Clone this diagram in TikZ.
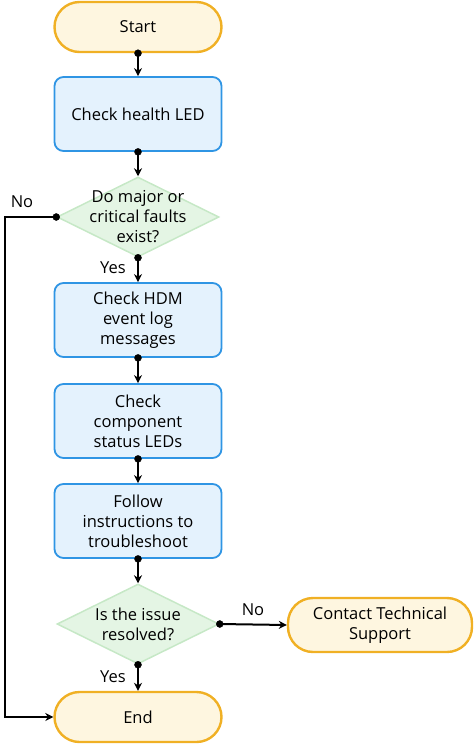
\documentclass[tikz,border=0pt]{standalone}
\usepackage{fontspec}
\setmainfont{Open Sans}
\usetikzlibrary{shapes.geometric,arrows.meta}
\definecolor{termfill}{HTML}{FEF6E0}
\definecolor{termline}{HTML}{F0B024}
\definecolor{procfill}{HTML}{E4F2FD}
\definecolor{procline}{HTML}{2F95E4}
\definecolor{decfill}{HTML}{E4F5E4}
\definecolor{decline}{HTML}{C6E8C6}
\begin{document}
\begin{tikzpicture}[x=1pt,y=-1pt,font=\fontsize{16.5}{20}\selectfont,
  term/.style={draw=termline,fill=termfill,line width=2.4pt,rounded corners=25pt,minimum width=167pt,minimum height=50pt,align=center},
  proc/.style={draw=procline,fill=procfill,line width=1.8pt,rounded corners=9pt,minimum width=167pt,minimum height=74pt,align=center},
  decision/.style={draw=decline,fill=decfill,line width=1.5pt,diamond,minimum width=162pt,minimum height=80pt,inner sep=0pt},
  flow/.style={line width=2pt,-{Stealth[length=8pt,width=8pt]}}]
\useasboundingbox (0,0) rectangle (474,745);
% nodes
\node[term] (start) at (138,27) {Start};
\node[proc] (led) at (138,114) {Check health LED};
\node[decision] (faults) at (138,217) {};
\node[align=center] at (faults) {Do major or\\critical faults\\exist?};
\node[proc] (hdm) at (138,320) {Check HDM\\event log\\messages};
\node[proc] (comp) at (138,421) {Check\\component\\status LEDs};
\node[proc] (follow) at (138,521) {Follow\\instructions to\\troubleshoot};
\node[decision] (solved) at (138,624) {};
\node[align=center] at (solved) {Is the issue\\resolved?};
\node[term] (end) at (138,717) {End};
\node[term,minimum width=184pt,minimum height=54pt] (support) at (380,625) {Contact Technical\\Support};
\coordinate (corner1) at (5,217);
\coordinate (corner2) at (5,717);
% connectors
\draw[flow] (start.south) -- (led.north);
\draw[flow] (led.south) -- (faults.north);
\draw[flow] (faults.south) -- (hdm.north);
\draw[flow] (hdm.south) -- (comp.north);
\draw[flow] (comp.south) -- (follow.north);
\draw[flow] (follow.south) -- (solved.north);
\draw[flow] (solved.south) -- (end.north);
\draw[flow] (solved.east) -- (support.west);
\draw[flow] (faults.west) -- (corner1) -- (corner2) -- (end.west);
% dots
\filldraw[black] (start.south) circle (3.5pt);
\filldraw[black] (led.south) circle (3.5pt);
\filldraw[black] (faults.south) circle (3.5pt);
\filldraw[black] (faults.west) circle (3.5pt);
\filldraw[black] (hdm.south) circle (3.5pt);
\filldraw[black] (comp.south) circle (3.5pt);
\filldraw[black] (follow.south) circle (3.5pt);
\filldraw[black] (solved.south) circle (3.5pt);
\filldraw[black] (solved.east) circle (3.5pt);
% labels
\node at (22,202) {No};
\node at (113,268) {Yes};
\node at (253,610) {No};
\node at (113,677) {Yes};
\end{tikzpicture}
\end{document}
